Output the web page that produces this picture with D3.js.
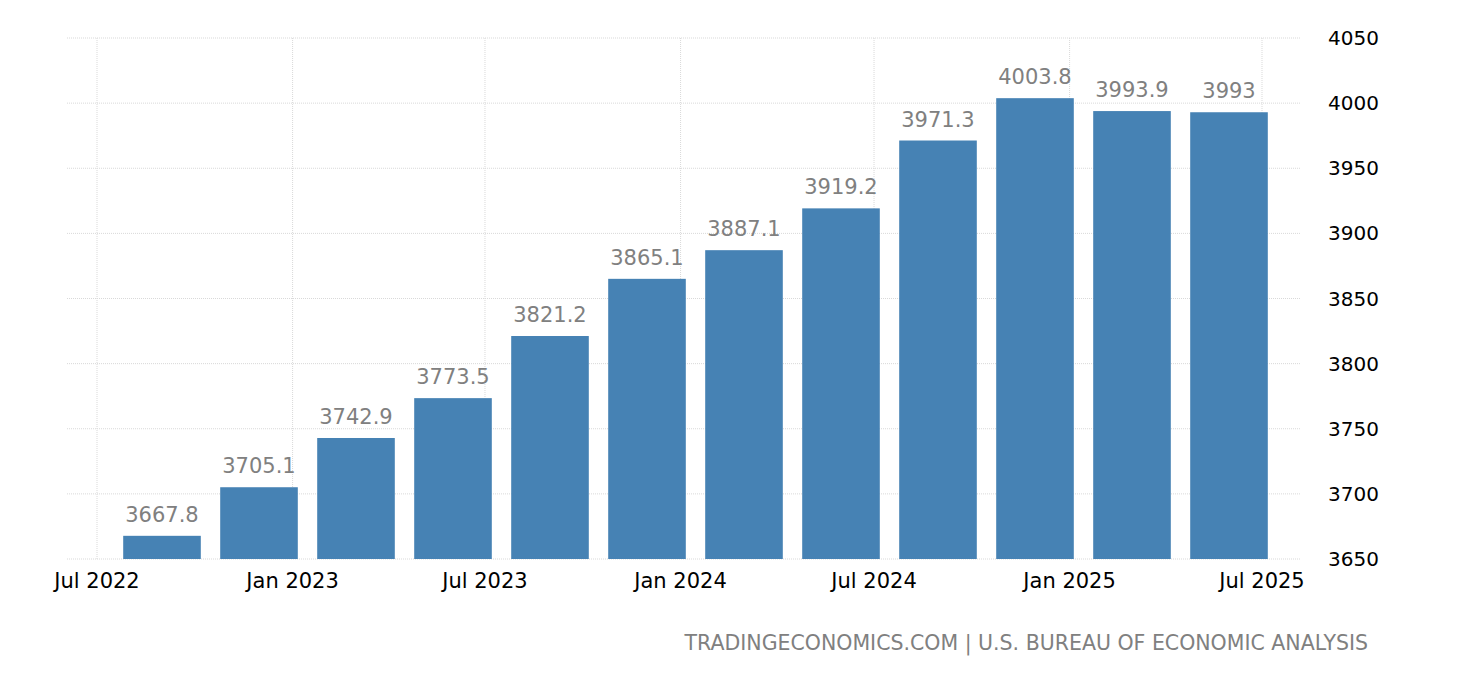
<!DOCTYPE html><html><head><script src="https://d3js.org/d3.v7.min.js"></script>
<style>body{margin:0;background:#fff}text{font-family:"DejaVu Sans",sans-serif}</style></head><body>
<svg id="c" width="1460" height="680"></svg>
<script>
const quarters=["2022Q3","2022Q4","2023Q1","2023Q2","2023Q3","2023Q4","2024Q1","2024Q2","2024Q3","2024Q4","2025Q1","2025Q2"];
const values=[3667.8,3705.1,3742.9,3773.5,3821.2,3865.1,3887.1,3919.2,3971.3,4003.8,3993.9,3993];
const yTicks=[3650,3700,3750,3800,3850,3900,3950,4000,4050];
const xTicks=["2022-07-01","2023-01-01","2023-07-01","2024-01-01","2024-07-01","2025-01-01","2025-07-01"];
const svg=d3.select("#c");
const y=d3.scaleLinear().domain([3650,4050]).range([559,38]);
const xt=d3.scaleTime().domain([new Date(2022,6,1),new Date(2025,6,1)]).range([97,1262]);
const xb=d3.scaleBand().domain(quarters).range([113.5,1277.5]).paddingInner(0.2).paddingOuter(0.1);
const g=svg.append("g");
g.selectAll(".hg").data(yTicks).join("line").attr("x1",67).attr("x2",1300).attr("y1",d=>y(d)).attr("y2",d=>y(d)).attr("stroke","#d9d9d9").attr("stroke-dasharray","1,1");
g.selectAll(".vg").data(xTicks).join("line").attr("x1",d=>xt(new Date(d))).attr("x2",d=>xt(new Date(d))).attr("y1",38).attr("y2",559).attr("stroke","#d9d9d9").attr("stroke-dasharray","1,1");
g.selectAll("rect").data(values).join("rect").attr("x",(d,i)=>xb(quarters[i])).attr("width",xb.bandwidth()).attr("y",d=>y(d)).attr("height",d=>559-y(d)).attr("fill","#4682b4");
g.selectAll(".lbl").data(values).join("text").attr("x",(d,i)=>xb(quarters[i])+xb.bandwidth()/2).attr("y",d=>y(d)-14).attr("text-anchor","middle").attr("fill","#808080").attr("font-size",21).text(d=>String(d));
g.selectAll(".yt").data(yTicks).join("text").attr("x",1328).attr("y",d=>y(d)+7).attr("font-size",20).attr("fill","#000").text(d=>d);
const fmt=d3.timeFormat("%b %Y");
g.selectAll(".xt").data(xTicks).join("text").attr("x",d=>xt(new Date(d))).attr("y",588).attr("text-anchor","middle").attr("font-size",21).attr("fill","#000").text(d=>fmt(new Date(d)));
svg.append("text").attr("x",1368).attr("y",650).attr("text-anchor","end").attr("font-size",20.5).attr("fill","#808080").text("TRADINGECONOMICS.COM | U.S. BUREAU OF ECONOMIC ANALYSIS");
</script></body></html>
